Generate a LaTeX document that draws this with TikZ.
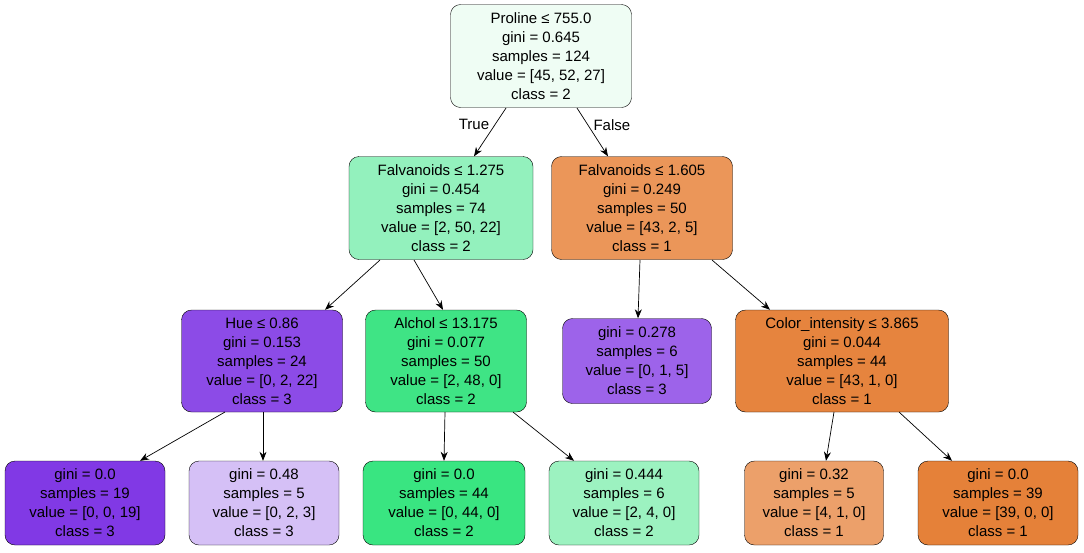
\documentclass[tikz,border=0pt]{standalone}
\usepackage{fontspec}
\setmainfont{Liberation Sans}
\usetikzlibrary{arrows.meta}
\begin{document}
\begin{tikzpicture}[x=1pt,y=-1pt,
 box/.style={draw,rounded corners=10pt,align=center,font=\fontsize{15}{19}\selectfont,inner sep=0pt},
 e/.style={-{Stealth[length=9pt,width=7pt]},line width=0.7pt},
 lab/.style={font=\fontsize{15}{19}\selectfont}]
\useasboundingbox (0,0) rectangle (1084,552);
\definecolor{c0}{HTML}{EFFDF4}\definecolor{c1}{HTML}{93F1BD}\definecolor{c2}{HTML}{EB9659}
\definecolor{c3}{HTML}{8C4BE7}\definecolor{c4}{HTML}{3FE485}\definecolor{c5}{HTML}{9D63EA}
\definecolor{c6}{HTML}{E6843E}\definecolor{c7}{HTML}{8139E5}\definecolor{c8}{HTML}{D5C0F6}
\definecolor{c9}{HTML}{39E581}\definecolor{c10}{HTML}{9CF2C0}\definecolor{c11}{HTML}{ECA06A}
\definecolor{c12}{HTML}{E58139}
\node[box,fill=c0,minimum width=181,minimum height=103] (r) at (541,56) {Proline ≤ 755.0\\gini = 0.645\\samples = 124\\value = [45, 52, 27]\\class = 2};
\node[box,fill=c1,minimum width=184,minimum height=103] (a) at (441,208) {Falvanoids ≤ 1.275\\gini = 0.454\\samples = 74\\value = [2, 50, 22]\\class = 2};
\node[box,fill=c2,minimum width=181,minimum height=103] (b) at (642,208) {Falvanoids ≤ 1.605\\gini = 0.249\\samples = 50\\value = [43, 2, 5]\\class = 1};
\node[box,fill=c3,minimum width=161,minimum height=102] (aa) at (262,361) {Hue ≤ 0.86\\gini = 0.153\\samples = 24\\value = [0, 2, 22]\\class = 3};
\node[box,fill=c4,minimum width=161,minimum height=102] (ab) at (446,361) {Alchol ≤ 13.175\\gini = 0.077\\samples = 50\\value = [2, 48, 0]\\class = 2};
\node[box,fill=c5,minimum width=149,minimum height=85] (ba) at (637,361) {gini = 0.278\\samples = 6\\value = [0, 1, 5]\\class = 3};
\node[box,fill=c6,minimum width=213,minimum height=102] (bb) at (842,361) {Color\_intensity ≤ 3.865\\gini = 0.044\\samples = 44\\value = [43, 1, 0]\\class = 1};
\node[box,fill=c7,minimum width=160,minimum height=84] (l1) at (85,503) {gini = 0.0\\samples = 19\\value = [0, 0, 19]\\class = 3};
\node[box,fill=c8,minimum width=150,minimum height=84] (l2) at (264,503) {gini = 0.48\\samples = 5\\value = [0, 2, 3]\\class = 3};
\node[box,fill=c9,minimum width=162,minimum height=84] (l3) at (444,503) {gini = 0.0\\samples = 44\\value = [0, 44, 0]\\class = 2};
\node[box,fill=c10,minimum width=150,minimum height=84] (l4) at (624,503) {gini = 0.444\\samples = 6\\value = [2, 4, 0]\\class = 2};
\node[box,fill=c11,minimum width=139,minimum height=84] (l5) at (814,503) {gini = 0.32\\samples = 5\\value = [4, 1, 0]\\class = 1};
\node[box,fill=c12,minimum width=160,minimum height=84] (l6) at (998,503) {gini = 0.0\\samples = 39\\value = [39, 0, 0]\\class = 1};
\coordinate (r1) at (506,108);\coordinate (r2) at (577,108);
\draw[e] (r1) -- (a.north -| 474,0) node[pos=0.35,left,lab,xshift=-2pt] {True};
\draw[e] (r2) -- (b.north -| 608,0) node[pos=0.35,right,lab,xshift=2pt] {False};
\coordinate (a1) at (380,260);\coordinate (a2) at (414,260);
\draw[e] (a1) -- (aa.north -| 325,0);
\draw[e] (a2) -- (ab.north -| 443,0);
\coordinate (b1) at (640,260);\coordinate (b2) at (712,260);
\draw[e] (b1) -- (ba.north -| 638,0);
\draw[e] (b2) -- (bb.north -| 770,0);
\coordinate (aa1) at (225,412);\coordinate (aa2) at (263,412);
\draw[e] (aa1) -- (l1.north -| 140,0);
\draw[e] (aa2) -- (l2.north -| 263,0);
\coordinate (ab1) at (445,412);\coordinate (ab2) at (513,412);
\draw[e] (ab1) -- (l3.north -| 444,0);
\draw[e] (ab2) -- (l4.north -| 574,0);
\coordinate (bb1) at (834,412);\coordinate (bb2) at (899,412);
\draw[e] (bb1) -- (l5.north -| 826,0);
\draw[e] (bb2) -- (l6.north -| 952,0);
\end{tikzpicture}
\end{document}
